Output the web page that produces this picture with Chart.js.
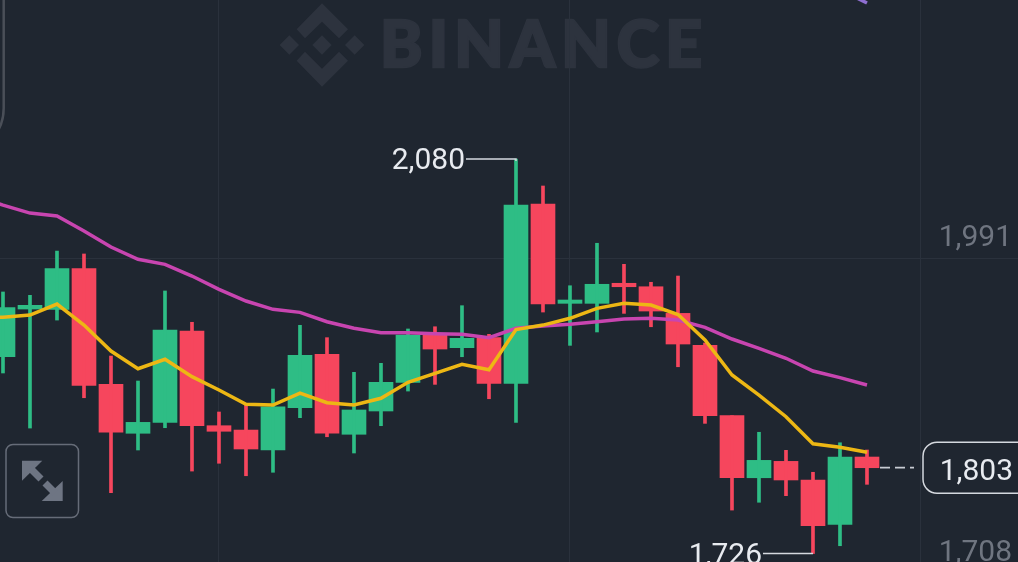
<!DOCTYPE html>
<html>
<head>
<meta charset="utf-8">
<style>
html,body{margin:0;padding:0;background:#1f2630;overflow:hidden}
canvas{display:block}
</style>
<script src="https://cdn.jsdelivr.net/npm/chart.js@4"></script>
</head>
<body>
<canvas id="c" width="1018" height="562"></canvas>
<script>
// Candle slots (slot 0 lies just off the left edge)
const slots = [0,1,2,3,4,5,6,7,8,9,10,11,12,13,14,15,16,17,18,19,20,21,22,23,24,25,26,27,28,29,30,31,32,33];
const opens  = [1940,1902.6,1945.4,1945.1,1981.6,1877.8,1833.9,1843.7,1925.7,1840.7,1836.8,1818.9,1856.8,1904.8,1833,1853.9,1879.6,1922.1,1910.7,1919.7,1878.7,2039.6,1950.5,1950.5,1968.5,1965.4,1941.5,1912.8,1849.7,1794,1808.7,1792,1752.2,1812.6];
const closes = [1945,1946.6,1948.7,1981.6,1876.9,1835,1843.7,1926.6,1840.7,1835.7,1819.8,1857.7,1903.9,1833.9,1854.8,1879.6,1922.1,1909.5,1919.1,1878.7,2038.7,1949.9,1953.5,1967.6,1965.4,1943.6,1914,1849.7,1794,1809.6,1792,1751,1812.6,1803];
const highs  = [1960,1960.7,1957.7,1997.4,1994.8,1903.2,1880.8,1961.6,1933.5,1853,1859.3,1873.6,1930.8,1919.7,1888.6,1896.7,1927.5,1929.5,1948.4,1922.7,2080,2055.8,1966.3,2004.4,1985.5,1969.4,1975,1914.9,1849.7,1834.8,1818.6,1798.9,1825.4,1818.9];
const lows   = [1930,1888,1838.6,1935.5,1865.8,1780.6,1818.9,1838.9,1800,1807,1795.8,1798.9,1847.9,1830.8,1816.2,1840.7,1871.8,1877.8,1902.6,1864.9,1843.7,1942.7,1912.8,1924.8,1941.5,1929.5,1893.6,1842.8,1765,1772,1777.9,1726,1733,1788.1];
const maFast = [1938,1938,1940,1949.9,1931,1907.7,1891.8,1900.3,1884.7,1872.7,1859.9,1859.3,1870,1861.3,1859.3,1865.3,1879.6,1887.7,1895.8,1890.9,1927,1931,1937.1,1946,1950.5,1949,1940.5,1917.6,1886.2,1868.2,1848.8,1824.5,1821.3,1816.8];
const maMid  = [2047,2038.7,2031.5,2028.9,2015.4,2001,1990,1985.5,1975,1963.1,1952.6,1945.1,1942.4,1934,1928.1,1924.1,1924.1,1923.2,1922.7,1919.7,1928.1,1930.1,1931.7,1934,1936.4,1937.1,1935.5,1929,1918.5,1910.1,1901.2,1889.8,1883.8,1877.2];
const maSlowSlots = [32,33];
const maSlow = [2232,2220];
const yTicks = [1708,1991];
const xGridSlots = [9,22,35];
const highLabel = {slot:20, value:2080};
const lowLabel  = {slot:31, value:1726};
const lastPrice = 1803;

const GREEN='#2EBD85', RED='#F6465D';
const fmt = v => Number(v).toLocaleString('en-US');
const candleColors = slots.map((_,i)=> closes[i]>=opens[i] ? GREEN : RED);
const FONT='Roboto, sans-serif';

const deco = {
  id:'deco',
  beforeDraw(chart){
    const c=chart.ctx; c.save();
    // watermark logo
    c.fillStyle='#2d333e';
    const P=(pts)=>{c.beginPath();pts.forEach((p,i)=>{const x=260+p[0]/3,y=p[1]/3;i?c.lineTo(x,y):c.moveTo(x,y)});c.closePath();c.fill();};
    const D=(cx,cy,h)=>P([[cx,cy-h],[cx+h,cy],[cx,cy+h],[cx-h,cy]]);
    D(186,135,29);D(88,135,29);D(284,135,29);
    P([[186,10],[264,88],[237,115],[186,65],[135,115],[110,88]]);
    P([[186,260],[264,182],[237,155],[186,206],[135,155],[110,182]]);
    // watermark text, thickened to the reference's heavy weight
    c.font='900 64px Lato, sans-serif';
    c.textAlign='left';c.textBaseline='alphabetic';
    c.letterSpacing='0px';
    const w=c.measureText('BINANCE').width;
    c.letterSpacing=((322-w)/6)+'px';
    c.strokeStyle='#2d333e';c.lineWidth=2.6;c.lineJoin='miter';
    c.strokeText('BINANCE',380,67.3);
    c.fillText('BINANCE',380,67.3);
    c.letterSpacing='0px';
    // clipped panel edge top-left
    c.strokeStyle='#4a4f58';c.lineWidth=2.5;
    c.beginPath();c.moveTo(3.7,0);c.lineTo(3.7,108);c.quadraticCurveTo(3.7,122,-3,132);c.stroke();
    c.restore();
  },
  afterDraw(chart){
    const c=chart.ctx,X=chart.scales.x,Y=chart.scales.y; c.save();
    c.textBaseline='alphabetic';
    c.strokeStyle='#d5d9df';c.lineWidth=1.5;
    // high leader and label
    const hx=X.getPixelForValue(highLabel.slot),hy=Y.getPixelForValue(highLabel.value);
    c.beginPath();c.moveTo(hx-50,hy);c.lineTo(hx,hy);c.lineTo(hx,hy+2);c.stroke();
    c.fillStyle='#e8ebf0';c.font='30px '+FONT;c.textAlign='right';
    c.fillText(fmt(highLabel.value),hx-51,hy+9.5);
    // low leader and label
    const lx=X.getPixelForValue(lowLabel.slot),ly=Y.getPixelForValue(lowLabel.value);
    c.beginPath();c.moveTo(lx-50,ly);c.lineTo(lx,ly);c.stroke();
    c.fillText(fmt(lowLabel.value),lx-51,ly+10);
    // last price dashes and box
    const py=Y.getPixelForValue(lastPrice);
    c.setLineDash([10,5]);c.strokeStyle='#c8ccd3';c.lineWidth=1.8;
    c.beginPath();c.moveTo(880,py);c.lineTo(914,py);c.stroke();
    c.setLineDash([]);
    c.strokeStyle='#d5d9df';c.lineWidth=1.5;
    c.beginPath();c.roundRect(923,py-25.5,130,51,14);c.stroke();
    c.fillStyle='#e8ebf0';c.fillText(fmt(lastPrice),1013,py+12);
    // expand button
    c.strokeStyle='#666c78';c.lineWidth=1.5;
    c.beginPath();c.roundRect(6,444.5,72.5,73,7);c.stroke();
    c.fillStyle='#6e7583';
    c.beginPath();c.moveTo(22,460.7);c.lineTo(42.3,460.7);c.lineTo(22,480.7);c.closePath();c.fill();
    c.beginPath();c.moveTo(62.7,501);c.lineTo(41.7,501);c.lineTo(62.7,481);c.closePath();c.fill();
    c.strokeStyle='#6e7583';c.lineWidth=7;
    c.beginPath();c.moveTo(30,468);c.lineTo(41,479);c.stroke();
    c.beginPath();c.moveTo(45,483);c.lineTo(55,493);c.stroke();
    c.restore();
  }
};

new Chart(document.getElementById('c'),{
  data:{datasets:[
    {type:'bar',order:3,grouped:false,barThickness:3,
     data:slots.map((s,i)=>({x:s,y:[lows[i],highs[i]]})),backgroundColor:candleColors,borderWidth:0},
    {type:'bar',order:3,grouped:false,barThickness:24,
     data:slots.map((s,i)=>({x:s,y:[opens[i],closes[i]]})),backgroundColor:candleColors,borderWidth:0},
    {type:'line',order:2,data:slots.map((s,i)=>({x:s,y:maMid[i]})),borderColor:'#C845B0',borderWidth:3.5,pointRadius:0,tension:0},
    {type:'line',order:1,data:slots.map((s,i)=>({x:s,y:maFast[i]})),borderColor:'#EDB714',borderWidth:3.5,pointRadius:0,tension:0},
    {type:'line',order:1,data:maSlowSlots.map((s,i)=>({x:s,y:maSlow[i]})),borderColor:'#8F6FD1',borderWidth:3.5,pointRadius:0,tension:0}
  ]},
  options:{
    responsive:false,animation:false,
    layout:{padding:0,autoPadding:false},
    plugins:{legend:{display:false},tooltip:{enabled:false}},
    scales:{
      x:{type:'linear',offset:false,min:0.889,max:38.593,
         afterBuildTicks:s=>{s.ticks=xGridSlots.map(v=>({value:v}))},
         afterFit:s=>{s.height=0},
         ticks:{display:false,autoSkip:false},
         grid:{offset:false,color:'#2a313c',lineWidth:1,drawTicks:false},border:{display:false}},
      y:{type:'linear',position:'right',beginAtZero:false,min:1718.4,max:2222.7,
         afterBuildTicks:s=>{s.ticks=yTicks.map(v=>({value:v}))},
         afterFit:s=>{s.width=0;s.paddingTop=0;s.paddingBottom=0},
         ticks:{mirror:true,autoSkip:false,padding:-6,labelOffset:-20,color:'#6f7580',
                font:{family:'Roboto',size:30},callback:v=>fmt(v)},
         grid:{color:'#2a313c',lineWidth:1,drawTicks:false},border:{display:false}}
    }
  },
  plugins:[deco]
});
</script>
</body>
</html>
